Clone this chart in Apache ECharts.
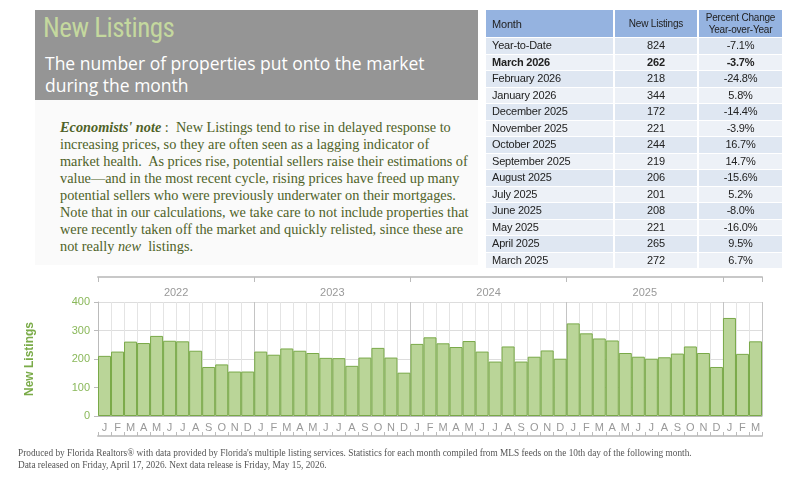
<!DOCTYPE html>
<html><head><meta charset="utf-8">
<script src="https://cdn.jsdelivr.net/npm/echarts@6/dist/echarts.min.js"></script>
<style>
body{margin:0;width:796px;height:484px;background:#fff;position:relative;overflow:hidden;font-family:"Liberation Sans",sans-serif}
#chart{position:absolute;left:0;top:0;width:796px;height:484px}
.abs{position:absolute}
#head{left:35px;top:10px;width:443px;height:90px;background:#959595}
#head .t{position:absolute;left:8px;top:2px;font-family:"Liberation Sans Narrow","Roboto Condensed",sans-serif;font-size:27px;letter-spacing:-0.5px;color:#c4d89e}
#head .s{position:absolute;left:10px;top:42px;width:430px;font-family:"Open Sans",sans-serif;font-size:17.5px;line-height:22px;color:#fff}
#panel{left:35px;top:100px;width:443px;height:165px;background:#fafafa}
#note{left:60px;top:119px;width:412px;font-family:"Liberation Serif",serif;font-size:14.3px;line-height:17px;color:#4f6228}
table{position:absolute;left:484px;top:9px;width:298px;table-layout:fixed;border-collapse:separate;border-spacing:2px 1px;font-family:"Liberation Sans Narrow","Liberation Sans",sans-serif;font-size:11px;letter-spacing:-0.2px;color:#222}
td{height:15.5px;line-height:15px;padding:0 6px;white-space:nowrap;overflow:hidden}
th{background:#95b3e0;font-weight:normal;height:27px;font-size:10px;line-height:12px;padding:0 2px}
tr:nth-child(even) td{background:#dfe7f2}
tr:nth-child(odd) td{background:#edf1f7}
td:nth-child(2),td:nth-child(3){text-align:center}
.foot{left:18px;top:447px;font-family:"Liberation Serif",serif;font-size:9.3px;line-height:12px;color:#555}
</style></head>
<body>
<div id="chart"></div>
<div class="abs" id="head"><div class="t">New Listings</div><div class="s">The number of properties put onto the market during the month</div></div>
<div class="abs" id="panel"></div>
<div class="abs" id="note"><b><i>Economists' note</i></b> :&nbsp; New Listings tend to rise in delayed response to increasing prices, so they are often seen as a lagging indicator of market health.&nbsp; As prices rise, potential sellers raise their estimations of value—and in the most recent cycle, rising prices have freed up many potential sellers who were previously underwater on their mortgages.&nbsp; Note that in our calculations, we take care to not include properties that were recently taken off the market and quickly relisted, since these are not really <i>new</i>&nbsp; listings.</div>
<table id="tbl"></table>
<div class="abs foot">Produced by Florida Realtors® with data provided by Florida's multiple listing services. Statistics for each month compiled from MLS feeds on the 10th day of the following month.<br>Data released on Friday, April 17, 2026. Next data release is Friday, May 15, 2026.</div>
<script>
// table rows
var rowMonths = ['Year-to-Date','March 2026','February 2026','January 2026','December 2025','November 2025','October 2025','September 2025','August 2025','July 2025','June 2025','May 2025','April 2025','March 2025'];
var rowListings = [824,262,218,344,172,221,244,219,206,201,208,221,265,272];
var rowChange = ['-7.1%','-3.7%','-24.8%','5.8%','-14.4%','-3.9%','16.7%','14.7%','-15.6%','5.2%','-8.0%','-16.0%','9.5%','6.7%'];

// chart data, Jan 2022 .. Mar 2026
var monthLetters = ['J','F','M','A','M','J','J','A','S','O','N','D'];
var years = ['2022','2023','2024','2025'];
var listings2022 = [211,226,261,256,281,264,262,229,172,181,156,156];
var listings2023 = [226,215,237,229,221,204,203,176,205,239,205,152];
var listings2024 = [253,276,255,242,263,226,191,244,191,208,230,201];
var listings2025 = [325,290,272,265,221,208,201,206,219,244,221,172];
var listings2026 = [344,218,262];

var html = '<colgroup><col style="width:127px"><col style="width:82px"><col style="width:83px"></colgroup>' +
  '<tr><th style="text-align:left;padding-left:6px;font-size:11px">Month</th><th>New Listings</th><th>Percent Change<br>Year-over-Year</th></tr>';
rowMonths.forEach(function(m, i){
  var b = i == 1 ? ' style="font-weight:bold"' : '';
  html += '<tr' + b + '><td>' + m + '</td><td>' + rowListings[i] + '</td><td>' + rowChange[i] + '</td></tr>';
});
document.getElementById('tbl').innerHTML = html;

var cats = [], values = [];
[listings2022, listings2023, listings2024, listings2025, listings2026].forEach(function(arr){
  arr.forEach(function(v, i){ cats.push(monthLetters[i]); values.push(v); });
});
var n = values.length;

var chart = echarts.init(document.getElementById('chart'));
chart.setOption({
  animation: false,
  grid: {left: 98, right: 34, top: 302, bottom: 68},
  xAxis: [{
    type: 'category', data: cats,
    axisLine: {lineStyle: {color: '#bbb'}},
    axisTick: {show: false},
    axisLabel: {color: '#999', fontSize: 11, interval: 0, margin: 6},
    splitLine: {show: true, interval: 0, lineStyle: {color: '#e4e4e4'}}
  }, {
    type: 'value', position: 'top', min: 0, max: n, interval: 12, offset: 25,
    axisLine: {show: true, onZero: false, lineStyle: {color: '#c8c8c8', width: 2}},
    axisTick: {show: true, inside: true, length: 5, lineStyle: {color: '#bbb'}},
    axisLabel: {customValues: [6, 18, 30, 42], formatter: function(v){ return years[(v - 6) / 12]; }, color: '#999', fontSize: 11, inside: true, margin: 10},
    splitLine: {show: true, lineStyle: {color: '#c4c4c4'}}
  }, {
    type: 'value', position: 'bottom', min: 0, max: n, interval: 1, offset: 20,
    axisLine: {show: true, onZero: false, lineStyle: {color: '#c8c8c8', width: 2}},
    axisTick: {show: true, inside: true, length: 4, lineStyle: {color: '#bbb'}},
    axisLabel: {show: false}, splitLine: {show: false}
  }],
  yAxis: {
    type: 'value', min: 0, max: 400, interval: 100,
    name: 'New Listings', nameLocation: 'middle', nameGap: 62, nameRotate: 90,
    nameTextStyle: {color: '#7aab48', fontWeight: 'bold', fontSize: 12},
    axisLine: {show: true, lineStyle: {color: '#bbb'}},
    axisTick: {show: true, length: 4, lineStyle: {color: '#bbb'}},
    axisLabel: {color: '#8ab85a', fontSize: 11},
    splitLine: {lineStyle: {color: '#ddd'}}
  },
  series: [{
    type: 'bar', data: values, barCategoryGap: 0,
    itemStyle: {color: '#bad598', borderColor: '#79a948', borderWidth: 1}
  }]
});
</script>
</body></html>
